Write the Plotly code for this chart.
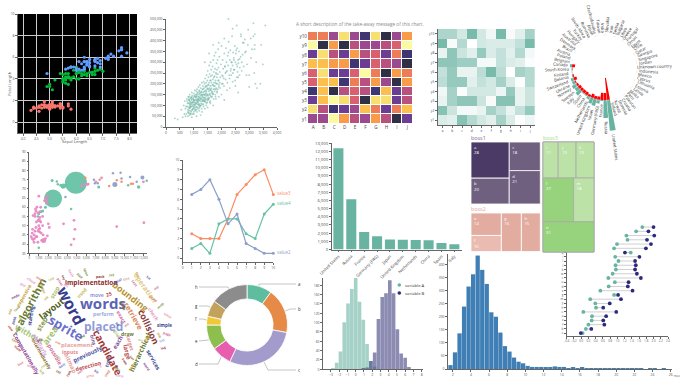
import plotly.graph_objects as go
import math

W, H = 680, 383
fig = go.Figure()
LAY = {}
ANN = []
GREY = "#666"
TEAL = "#69b3a2"

# ---------- data ----------
setosa_sl = [5.1,4.9,4.7,4.6,5.0,5.4,4.6,5.0,4.4,4.9,5.4,4.8,4.8,4.3,5.8,5.7,5.4,5.1,5.7,5.1,5.4,5.1,4.6,5.1,4.8,5.0,5.0,5.2,5.2,4.7,4.8,5.4,5.2,5.5,4.9,5.0,5.5,4.9,4.4,5.1,5.0,4.5,4.4,5.0,5.1,4.8,5.1,4.6,5.3,5.0]
setosa_pl = [1.4,1.4,1.3,1.5,1.4,1.7,1.4,1.5,1.4,1.5,1.5,1.6,1.4,1.1,1.2,1.5,1.3,1.4,1.7,1.5,1.7,1.5,1.0,1.7,1.9,1.6,1.6,1.5,1.4,1.6,1.6,1.5,1.5,1.4,1.5,1.2,1.3,1.4,1.3,1.5,1.3,1.3,1.3,1.6,1.9,1.4,1.6,1.4,1.5,1.4]
versi_sl = [7.0,6.4,6.9,5.5,6.5,5.7,6.3,4.9,6.6,5.2,5.0,5.9,6.0,6.1,5.6,6.7,5.6,5.8,6.2,5.6,5.9,6.1,6.3,6.1,6.4,6.6,6.8,6.7,6.0,5.7,5.5,5.5,5.8,6.0,5.4,6.0,6.7,6.3,5.6,5.5,5.5,6.1,5.8,5.0,5.6,5.7,5.7,6.2,5.1,5.7]
versi_pl = [4.7,4.5,4.9,4.0,4.6,4.5,4.7,3.3,4.6,3.9,3.5,4.2,4.0,4.7,3.6,4.4,4.5,4.1,4.5,3.9,4.8,4.0,4.9,4.7,4.3,4.4,4.8,5.0,4.5,3.5,3.8,3.7,3.9,5.1,4.5,4.5,4.7,4.4,4.1,4.0,4.4,4.6,4.0,3.3,4.2,4.2,4.2,4.3,3.0,4.1]
virgi_sl = [6.3,5.8,7.1,6.3,6.5,7.6,4.9,7.3,6.7,7.2,6.5,6.4,6.8,5.7,5.8,6.4,6.5,7.7,7.7,6.0,6.9,5.6,7.7,6.3,6.7,7.2,6.2,6.1,6.4,7.2,7.4,7.9,6.4,6.3,6.1,7.7,6.3,6.4,6.0,6.9,6.7,6.9,5.8,6.8,6.7,6.7,6.3,6.5,6.2,5.9]
virgi_pl = [6.0,5.1,5.9,5.6,5.8,6.6,4.5,6.3,5.8,6.1,5.1,5.3,5.5,5.0,5.1,5.3,5.5,6.7,6.9,5.0,5.7,4.9,6.7,4.9,5.7,6.0,4.8,4.9,5.6,5.8,6.1,6.4,5.6,5.1,5.6,6.1,5.6,5.5,4.8,5.4,5.6,5.1,5.1,5.9,5.7,5.2,5.0,5.2,5.4,5.1]

dens_x = [720,760,790,800,810,830,840,850,860,870,880,890,900,910,920,930,940,950,960,970,
 980,990,1000,1005,1010,1020,1030,1040,1050,1055,1060,1070,1080,1090,1100,1105,1110,1120,1130,1140,
 1150,1155,1160,1170,1180,1190,1200,1205,1210,1220,1230,1240,1250,1255,1260,1270,1280,1290,1300,1305,
 1310,1320,1330,1340,1350,1355,1360,1370,1380,1390,1400,1405,1410,1420,1430,1440,1450,1455,1460,1470,
 1480,1490,1500,1505,1510,1520,1530,1540,1550,1555,1560,1570,1580,1590,1600,1605,1610,1620,1630,1640,
 1650,1660,1670,1680,1690,1700,1710,1720,1730,1740,1750,1760,1770,1780,1790,1800,1810,1820,1830,1840,
 1850,1860,1870,1880,1890,1900,1920,1940,1960,1980,2000,2020,2040,2060,2080,2100,2120,2140,2160,2180,
 2200,2220,2240,2260,2280,2300,2320,2340,2360,2380,2400,2420,2440,2460,2480,2500,2520,2540,2560,2580,
 2600,2630,2660,2700,2730,2760,2800,2840,2880,2920,2960,3000,3060,3100,3150,3180,3200,3220,3250,3280,
 2250,2400,2550,2700,2800,3150,3580,3200,3430,3190,3490,3400,2900,3000,2600,2100,1900,1700,1550,1400,
 320,420,550,600,640,660,680,700,700,730,750,770,790,810,830,850,880,900,930,960,
 820,860,905,935,965,995,1025,1045,1075,1095,1115,1135,1165,1185,1215,1235,1265,1295,1325,1345,
 1365,1385,1415,1435,1465,1485,1515,1535,1565,1585,1615,1635,1665,1695,1725,1755,1785,1815,1865,1905,
 845,875,925,945,985,1015,1065,1085,1125,1145,1175,1195,1245,1275,1315,1375,1425,1475,1525,1575,
 1000,1100,1200,1300,1400,1500,1600,1700,1800,1900,2000,2100,2200,2300,2400,2500,2600,1250,1350,1450,
 780,815,835,855,885,915,935,975,1005,1035,1065,1095,1125,1155,1185,1215,1245,1275,1305,1335,
 1365,1395,1425,1455,1485,1515,1545,1575,1605,1635,1665,1695,1725,1755,1785,1815,1845,1875,1905,1935,
 790,825,865,895,955,1015,1055,1115,1165,1225,1285,1345,1405,1465,1525,1595,1655,1715,1775,1835,
 2010,2050,2090,2130,2170,2210,2250,2290,2330,2370,2410,2450,2490,2530,2570,2610,2650,2690,2730,2770,
 900,1000,1100,1200,1300,1400,1500,1600,1700,1800,1950,2050,2150,2350,2450,2550,2650,2850,2950,3050]
dens_y = [95,120,80,140,110,75,125,100,150,90,115,135,70,105,125,160,95,145,115,85,
 130,105,155,90,120,140,100,170,125,80,150,110,135,165,95,145,120,175,130,105,
 160,115,140,185,125,150,105,170,135,195,120,160,145,180,100,130,165,205,150,120,
 175,140,190,160,125,210,150,180,135,200,165,145,225,185,130,170,205,155,240,190,
 150,215,175,260,195,135,230,165,205,285,180,245,150,215,190,300,235,170,265,205,
 160,240,195,280,220,310,175,255,205,330,235,190,270,215,345,250,180,295,230,265,
 200,310,245,360,275,215,325,255,230,290,375,240,310,270,225,340,280,250,365,300,
 260,330,285,395,240,310,355,270,300,420,285,345,320,265,375,300,340,290,365,255,
 310,350,275,430,300,335,280,405,350,290,450,240,320,360,420,250,380,200,300,180,
 500,455,470,420,390,480,470,430,380,360,290,200,240,185,230,410,390,380,340,300,
 40,35,80,45,100,60,120,85,50,60,130,95,50,65,140,55,60,75,45,60,
 125,110,135,115,100,125,145,115,90,125,150,115,130,100,155,135,110,145,125,175,
 135,165,115,190,145,180,150,195,135,170,215,180,155,195,230,165,205,245,175,195,
 85,105,130,80,115,85,105,140,90,125,105,165,130,150,105,120,155,125,175,115,
 60,50,75,70,85,90,110,100,130,140,150,125,170,180,210,190,160,55,95,100,
 110,90,130,120,95,140,110,135,125,105,140,110,155,120,140,125,100,160,135,150,
 120,150,135,165,115,145,130,155,175,140,165,150,190,175,140,200,165,215,185,205,
 70,65,90,60,80,95,75,70,85,95,85,105,120,110,125,120,140,130,150,160,
 200,235,190,280,255,205,345,225,260,300,250,310,215,355,280,295,240,325,260,390,
 95,70,80,90,120,125,130,145,155,175,180,200,220,240,265,230,315,345,380,410]

hm1_rows = ["y10","y9","y8","y7","y6","y5","y4","y3","y2","y1"]
hm_cols = list("ABCDEFGHIJ")
hm1 = [[7,7,4,10,4,2,10,1,4,8],[11,1,8,1,5,4,4,5,6,11],[3,10,5,3,8,5,6,3,7,2],[9,9,8,8,2,3,6,5,4,1],
       [6,10,3,3,6,11,7,1,8,7],[6,9,9,2,7,5,8,4,1,8],[2,9,1,5,6,5,2,9,3,5],[3,9,11,10,6,1,10,10,3,5],
       [10,5,2,3,4,9,7,3,7,9],[4,4,11,8,5,4,8,5,1,3]]
hm2 = [[.55,.55,.3,.9,.3,.1,.9,.05,.2,.6],[.9,.05,.5,0,.3,.25,.25,.25,.4,.9],[.15,.75,.35,.2,.7,.25,.4,.2,.5,.08],
       [.75,.75,.65,.65,.07,.07,.4,.25,.2,.02],[.4,.7,.15,.15,.45,.9,.45,0,.6,.5],[.45,.7,.7,.2,.4,.3,.6,.25,.02,.5],
       [.1,.6,.03,.3,.3,.3,.12,.7,.15,.35],[.15,.6,.75,.75,.35,.05,.8,.8,.15,.35],[.8,.35,.08,.08,.15,.6,.4,.15,.4,.7],
       [.25,.2,.8,.5,.3,.2,.6,.25,.02,.12]]

countries = ["Slovakia","Iran","Serbia","Bulgaria","Libya","Greece","Portugal","Oman","Egypt","Chile","Qatar","Georgia",
 "Singapore","Jordan","Unknown country","Indonesia","Mexico","Cyprus","Lithuania","Estonia","Latvia","Malta","Peru","Pakistan",
 "Croatia","Slovenia","Kuwait","Ireland","United States","Russia","France","Germany (FRG)","Israel","United Kingdom","Netherlands",
 "China","Spain","Italy","Sweden","Norway","Ukraine","Switzerland","Belarus","Finland","South Korea","Canada","Belgium","Poland",
 "Austria","Brazil","Denmark","Australia","Hungary","Turkey","South Africa","Romania","Japan","Czechoslovakia","Taiwan","India"]
polar_out = [0]*28 + [31,18,1,4,7,6,3,1,1,6,4,5,3,3,1,.5,.5,2] + [0]*14
polar_in = [0]*28 + [22,7,7,3,3,4,2,3,3,3,3,2,1,3,1,0,.5,3] + [0]*14

bub_africa_x = [1000,1700,1800,1600,1900,1200,700,1100,900,600,400,600,1100,1400,1000,1200,2000,1000,1400,700,1100,1000,2100,3600,4800,1100,300,600,200,500,400,800,900,300,700,500,1300,1500,1700,6100,5500,7000,7600,12000,9200,12050,4700,4700,4400,5800,6200,1900,800,650,750,950,1250,1450,350,550,1950]
bub_africa_y = [66,65,64,63.5,62.5,60,58,57.5,57,56.5,55.5,55,54.5,55,53,52,51,50,50,49,48.5,48,49,51,48,46.5,46,47,44,45,42.5,44,41,43,44,41,42,42,43,72.4,71.5,73.8,76,73.8,49.5,51.6,52.9,42.7,39.6,72.5,72.6,44.5,60,59,52,47,46,45,48,43,66]
bub_africa_s = [2.8]*61
bub_africa_s[37] = 5
bub_africa_s[14] = 4
bub_asia_x = [2500,4900,2400,2900,3000,3300,3600,3500,1200,1000,1400,900,1700,4400,1000,7300,10400,11500,12350,3900,1800,2100]
bub_asia_y = [64.7,73.3,74.5,74,72.5,72,71.5,71,57.5,56.3,58,55,60,59,38,71,72,71,74.4,72,62,62]
bub_asia_s = [18,22,3,2.5,2.5,3,5,3,3,2.5,3,2.5,3,2.5,2.5,3,2.5,3.5,2.5,2.5,2.5,2.5]
bub_eur_x = [6800,6900,7200,8800,9600,9700,10600,9000,11300,11900,3800]
bub_eur_y = [75,73,73,78.4,78.7,75.6,76.4,72.4,73.8,76.2,65.6]
bub_eur_s = [2.5,2.5,2.5,2.5,2.5,2.5,2.5,5,2.5,4,2.5]
bub_amer_x = [5900,7400,8400,9200,9700,10700,10900]
bub_amer_y = [76,75,71.6,74.7,73.8,72.7,72.7]

line_x = [1,2,3,4,5,6,7,8,9,10]
val_orange = [2.5,2,2,2,4,6.5,7.5,8.5,9,6.5]
val_teal = [1,1.5,.5,3.5,4,4,2.5,2,4.5,5.5]
val_blue = [6.5,7,8,6,3.5,4.5,1.5,1,.5,.5]

bar_names = ["United States","Russia","France","Germany (FRG)","Japan","United Kingdom","Netherlands","China","Spain","Italy"]
bar_vals = [12400,6150,2150,1620,1230,1190,1150,1130,800,650]

boss1_ids = ["r1","c1","c2","a","b","c","d"]
boss1_par = ["","r1","r1","c1","c1","c2","c2"]
boss1_val = [87,48,39,28,20,18,21]
boss2_ids = ["r2","c3","e","f","g","h"]
boss2_par = ["","r2","c3","c3","r2","r2"]
boss2_val = [55,24,14,10,16,15]
boss3_ids = ["r3","w1","w2","w3","i","j","k","l","m","n"]
boss3_par = ["","r3","r3","r3","w1","w1","w1","w2","w2","w3"]
boss3_val = [113,37,45,31,11,13,13,27,18,31]

donut_names = list("abcdefgh")
donut_vals = [10,18,29,8,10,3.5,6.5,15]
donut_cols = ["#5fbd9f","#e58b47","#a39bcc","#e75db0","#8dbf4f","#f0c838","#c3a35c","#8c8c8c"]

hA_x = [-2.77,-2.31,-1.85,-1.39,-0.93,-0.47,0,.46,.92,1.38,1.84,2.3]
hA_v = [2,14,38,101,141,172,196,145,106,54,18,6]
hB_x = [.92,1.38,1.84,2.3,2.76,3.22,3.68,4.14,4.6,5.06,5.52,6.0,6.46]
hB_v = [1,4,18,36,108,155,163,191,163,86,34,25,5]

big_hist = [15,64,137,240,317,364,436,381,327,218,201,140,88,67,44,28,22,12,8,8,8,4,6,10,8,8,2,6,2,4,3,3,2,2,3,2,1,1,1,2,1,1,1,0,1,1,0,1,0,0]

dumb_names = list("ptnvroqiljkwcudxgmyheazfbs")
dumb_a = [1.69,1.52,1.25,1.28,.99,.91,1.37,.94,1.03,.95,.96,.87,.75,.93,.76,.53,.91,.25,.39,.41,.06,.30,.29,.20,.13,.04]
dumb_b = [2.0,1.86,2.02,1.82,1.93,1.79,1.21,1.61,1.49,1.51,1.49,1.54,1.65,1.31,1.29,1.42,1.02,1.10,.79,.61,.97,.69,.61,.64,.28,-.01]

leaders_x = [[257,259,296],[279,290,296],[262,268,296],[222,218,199],[217,208,199],[213,203,199],[218,208,199],[233,228,199]]
leaders_y = [[297,284,284],[314,309,309],[358,370,370],[355,364,364],[338,340,341],[322,319,319],[311,306,306],[298,287,287]]
leader_names = list("abcdefgh")

cloud = [("word",215,122,16,62,"#363b8c"),("words",308,115,15,0,"#5b64b5"),("sprite",198,190,13,30,"#6a70cf"),
 ("placed",310,183,12,0,"#8f9bd8"),("algorithm",92,110,10.5,-62,"#687a32"),("layout",155,130,9,-38,"#4e5d1e"),
 ("bounding",392,95,9,38,"#b8922e"),("implementation",273,52,6.5,0,"#8b2b2b"),("operation",435,68,7,55,"#e3c98a"),
 ("retrieve",402,152,7.5,60,"#d88a5f"),("collision",447,183,9,65,"#8a3a3a"),("candidate",325,263,10,62,"#a33535"),
 ("area",150,212,9,-55,"#a7c36f"),("without",90,205,8,30,"#a6c578"),("step",127,175,7,-58,"#8a9a4f"),
 ("starting",92,153,5,-80,"#3a3f8f"),("perform",310,147,5,0,"#9ca8e0"),("move",290,90,5,0,"#8f9bd8"),
 ("placement",230,240,6,0,"#e8a09a"),("inputs",210,260,5,0,"#dd8888"),("previously",265,268,6,-25,"#4a4f9a"),
 ("detection",265,302,5.5,-15,"#b94a4a"),("hierarchical",420,262,7,-65,"#6d7a30"),("services",460,285,5.5,60,"#3a3f8f"),
 ("simple",493,180,4.5,0,"#3a3f8f"),("draw",382,208,5,0,"#6d7a30"),("check",460,148,5,55,"#e89ac0"),
 ("exact",365,155,5,60,"#d06a9f"),("expensive",70,92,5,-60,"#c9a33a"),("Computationally",78,268,5.6,60,"#8a3a8a"),
 ("intermediately",125,268,4.6,60,"#8a6a2a"),("possible",165,270,5.6,60,"#d070a0"),("similarly",120,240,5.6,60,"#e0a0d8"),
 ("bitmap",210,295,6,65,"#e8a0a0"),("tree",322,290,5,-75,"#4a4f9a"),("large",380,262,6,75,"#b94a4a"),
 ("target",390,235,5,75,"#dd8888"),("bins",280,225,5,75,"#7a4a9a"),("used",245,85,5,-45,"#c9c36a"),
 ("stop",165,85,6,-60,"#a7c36f"),("25",327,88,5,-20,"#b94a4a"),("each",355,232,6,-60,"#7a4a9a"),
 ("time",370,125,4,70,"#8a6a2a"),("grid",350,205,4,60,"#a7c36f"),("text",405,55,3.5,50,"#d070a0"),
 ("font",440,220,3.5,-70,"#c9a33a"),("size",240,30,3.5,40,"#687a32"),("pixel",180,50,3.5,60,"#d070a0"),
 ("pack",300,35,3.5,0,"#8a3a3a"),("spiral",350,48,3.5,-30,"#5b64b5"),("shape",130,70,3.5,70,"#c9a33a"),
 ("fill",200,60,3.5,30,"#e0a0d8"),("loop",120,40,3.5,25,"#dd8888"),("cloud",95,45,3.5,35,"#e89ac0"),
 ("node",45,95,3.5,-25,"#8a3a8a"),("rect",50,130,3.5,-40,"#8a9a4f"),("path",40,165,3.5,-70,"#3a3f8f"),
 ("edge",50,195,3.5,-60,"#6d7a30"),("fast",45,225,3.5,20,"#b8922e"),("slow",55,250,3.5,40,"#b94a4a"),
 ("box",60,295,3.5,-30,"#dd8888"),("mask",95,305,3.5,20,"#e0a0d8"),("row",130,300,3.5,-40,"#a7c36f"),
 ("col",175,320,3.5,30,"#8a6a2a"),("run",205,325,3.5,-60,"#8a3a3a"),("cell",240,320,3.5,-35,"#d070a0"),
 ("bit",290,320,3.5,40,"#5b64b5"),("data",350,310,3.5,30,"#8a9a4f"),("test",395,305,3.5,-60,"#c9a33a"),
 ("word",440,305,3.5,55,"#8a3a8a"),("list",485,225,3.5,-30,"#9ca8e0"),("view",505,150,3.5,30,"#e8a09a"),
 ("map",480,120,3.5,-45,"#8a9a4f"),("draw",460,100,3.5,35,"#d88a5f"),("tile",480,210,3.5,60,"#c9a33a"),
 ("page",500,205,3.5,20,"#d070a0"),("fits",415,30,3.5,60,"#c9a33a"),("line",380,40,3.5,-20,"#e8a09a"),
 ("span",260,22,3.5,70,"#8a9a4f"),("hash",215,25,3.5,60,"#e89ac0"),("top",155,40,3.5,-30,"#c9c36a"),
 ("left",125,320,3.5,50,"#a7c36f"),("sort",185,300,3.5,-30,"#5b64b5"),("core",360,330,3.5,10,"#e0a0d8"),
 ("step",320,325,3.5,-60,"#d88a5f"),("area",270,330,3.5,-10,"#e8a09a"),("sum",375,290,3.5,60,"#8a3a3a"),
 ("ink",140,100,3.2,-50,"#c9a33a"),("key",190,40,3.2,70,"#8a3a3a"),("gap",70,60,3.2,30,"#e0a0d8"),
 ("tag",335,30,3.2,-10,"#8a9a4f"),("hit",445,40,3.2,40,"#5b64b5"),("old",470,70,3.2,-30,"#d070a0"),
 ("new",30,190,3.2,50,"#b94a4a"),("add",30,140,3.2,-60,"#c9a33a"),("set",60,160,3.2,70,"#a7c36f"),
 ("get",120,225,3.2,-20,"#8a3a8a"),("use",175,235,3.2,30,"#d88a5f"),("end",245,215,3.2,-30,"#687a32"),
 ("fit",350,178,3.2,50,"#3a3f8f"),("dot",380,180,3.2,-40,"#dd8888"),("arc",420,225,3.2,20,"#a7c36f"),
 ("bar",395,280,3.2,40,"#8a6a2a"),("pen",300,300,3.2,60,"#e89ac0"),("pad",235,285,3.2,-50,"#9ca8e0"),
 ("hue",175,275,3.2,35,"#c9c36a"),("log",490,250,3.2,-20,"#8a3a3a")]

# ---------- helpers ----------
def axes(i, l, r, t, b, xkw=None, ykw=None, show=True):
    base = dict(showgrid=False, zeroline=False, showline=show, linecolor=GREY, linewidth=.6,
                ticks="outside" if show else "", ticklen=2, tickwidth=.5, tickcolor=GREY,
                tickfont=dict(size=3.4, color="#555"), showticklabels=show, visible=show, tickangle=0)
    s = "" if i == 1 else str(i)
    LAY["xaxis" + s] = {**base, "domain": [l / W, r / W], "anchor": "y" + s, **(xkw or {})}
    LAY["yaxis" + s] = {**base, "domain": [1 - b / H, 1 - t / H], "anchor": "x" + s, **(ykw or {})}
    return ("x" + s, "y" + s)

def txt(x, y, t, size=5, color="#555", angle=0, xa="center", xr="x16", yr="y16", bold=False):
    ANN.append(dict(x=x, y=y, xref=xr, yref=yr, text="<b>%s</b>" % t if bold else t, showarrow=False,
                    font=dict(size=size, color=color), textangle=angle, xanchor=xa, yanchor="middle", borderpad=0, borderwidth=0))

axes(16, 0, W, 0, H, dict(range=[0, W], visible=False), dict(range=[H, 0], visible=False), show=False)
axes(17, 0, 290, 265, 383, dict(range=[0, 870], visible=False), dict(range=[354, 0], visible=False), show=False)

# 1 iris
xa, ya = axes(1, 18, 137, 14, 133,
    dict(range=[3.81, 8.28], dtick=.5, tick0=4, showgrid=True, gridcolor="#ccc", gridwidth=.5, tickformat=".1f"),
    dict(range=[-1, 10], dtick=2, showgrid=True, gridcolor="#ccc", gridwidth=.5))
for sx, sy, c in [(setosa_sl, setosa_pl, "#F8766D"), (versi_sl, versi_pl, "#00BA38"), (virgi_sl, virgi_pl, "#619CFF")]:
    fig.add_trace(go.Scatter(x=sx, y=sy, mode="markers", marker=dict(size=3.2, color=c), xaxis=xa, yaxis=ya))
LAY["shapes"] = [dict(type="rect", xref="x domain", yref="y domain", x0=0, x1=1, y0=0, y1=1, fillcolor="black", line_width=0, layer="below")]
txt(75, 141, "Sepal Length", 4.2)
txt(9, 84, "Petal Length", 4.2, angle=-90)

# 2 density scatter
xa, ya = axes(2, 166, 277, 19, 127, dict(range=[0, 4000], dtick=500, tickformat=","),
              dict(range=[0, 500], tickvals=list(range(0, 501, 50)), ticktext=[f"{v*1000:,}" for v in range(0, 501, 50)]))
fig.add_trace(go.Scatter(x=dens_x, y=dens_y, mode="markers", marker=dict(size=1.9, color=TEAL, opacity=.55), xaxis=xa, yaxis=ya, cliponaxis=False))

# 3 heatmap
mag = ["#2f2f45", "#3f3572", "#6b3e94", "#9b4a90", "#b9517f", "#d8606f", "#ec7d57", "#f99c4a", "#fcbf4d", "#f7df70", "#fafaa0"]
xa, ya = axes(3, 308, 412.5, 32, 123.5, dict(showline=False, ticks="", tickfont=dict(size=4.6, color="#444")),
              dict(showline=False, ticks="", autorange="reversed", tickfont=dict(size=4.6, color="#444")))
fig.add_trace(go.Heatmap(z=hm1, x=hm_cols, y=hm1_rows, zmin=1, zmax=11, showscale=False, xgap=1, ygap=1,
                         colorscale=[[i / 10, c] for i, c in enumerate(mag)], xaxis=xa, yaxis=ya))
txt(360, 24, "A short description of the take-away message of this chart.", 4.7, "#8a8a8a")

# 4 heatmap green
xa, ya = axes(4, 437.7, 535, 29, 125, dict(tickfont=dict(size=3.2)), dict(autorange="reversed", tickfont=dict(size=3.2)))
fig.add_trace(go.Heatmap(z=hm2, x=[c.lower() for c in hm_cols], y=hm1_rows, zmin=0, zmax=1, showscale=False,
                         colorscale=[[0, "#ffffff"], [1, TEAL]], xaxis=xa, yaxis=ya))

# 5 circular bars
ang = [4 + 6 * i for i in range(len(countries))]
R0, CX, CY = 32, 604, 68
fig.add_trace(go.Scatterpolar(r=[R0 + 1] * 121, theta=[i * 3 for i in range(121)], mode="lines",
                              line=dict(color="#ddd", width=.5, dash="3px,6px"), subplot="polar"))
fig.add_trace(go.Barpolar(r=polar_out, theta=ang, base=R0, width=5.4, marker=dict(color=TEAL, line_width=0), subplot="polar"))
fig.add_trace(go.Barpolar(r=polar_in, theta=ang, base=[R0 - v for v in polar_in], width=5.4, marker=dict(color="#ff0000", line_width=0), subplot="polar"))
LAY["polar"] = dict(domain=dict(x=[(CX - 64) / W, (CX + 64) / W], y=[1 - (CY + 64) / H, 1 - (CY - 64) / H]), bgcolor="rgba(0,0,0,0)",
                    angularaxis=dict(visible=False, rotation=90, direction="clockwise"),
                    radialaxis=dict(visible=False, range=[0, 64]))
for name, th, v in zip(countries, ang, polar_out):
    size = 4.2
    rc = R0 + 3 + v + len(name) * size * .26
    px = CX + rc * math.sin(math.radians(th))
    py = CY - rc * math.cos(math.radians(th))
    txt(px, py, name, size, "#333", angle=(th - 90 if th < 180 else th + 90))

# 6 bubbles
xa, ya = axes(6, 29.3, 147, 152, 253.3, dict(range=[0, 12380], dtick=1000, tickformat=",", tickfont=dict(size=2.8, color="#555")), dict(range=[35, 90], dtick=5))
for bx, by, bs, c in [(bub_asia_x, bub_asia_y, bub_asia_s, "#66c2a5"), (bub_amer_x, bub_amer_y, [2.5] * 7, "#fc8d62"),
                      (bub_eur_x, bub_eur_y, bub_eur_s, "#8da0cb"), (bub_africa_x, bub_africa_y, bub_africa_s, "#e78ac3")]:
    fig.add_trace(go.Scatter(x=bx, y=by, mode="markers", marker=dict(size=bs, color=c, opacity=.95, line_width=0), xaxis=xa, yaxis=ya, cliponaxis=False))

# 7 lines
xa, ya = axes(7, 182.7, 273.3, 160, 261.7, dict(range=[0, 10], dtick=1), dict(range=[-.35, 10], tickvals=list(range(11))))
for v, c in [(val_orange, "#fc8d62"), (val_teal, "#66c2a5"), (val_blue, "#8da0cb")]:
    fig.add_trace(go.Scatter(x=line_x, y=v, mode="lines+markers", line=dict(color=c, width=1.2), marker=dict(size=3, color=c), xaxis=xa, yaxis=ya, cliponaxis=False))
txt(276.5, 192.7, "value3", 4.4, "#fc8d62", xa="left")
txt(276.5, 203, "value4", 4.4, "#66c2a5", xa="left")
txt(276.5, 252, "value2", 4.4, "#8da0cb", xa="left")

# 8 bars
xa, ya = axes(8, 331.7, 461.7, 143.3, 249.5, dict(range=[-.52, 9.57], tickangle=-45, tickfont=dict(size=4.2, color="#444")),
              dict(range=[0, 13000], dtick=1000, tickformat=",", tickfont=dict(size=4.2, color="#444")))
fig.add_trace(go.Bar(x=bar_names, y=bar_vals, width=.78, marker=dict(color=TEAL, line_width=0), xaxis=xa, yaxis=ya))

# 9 treemaps
def tm(ids, par, val, leafcol, l, r, t, b, packing, line="#ffffff"):
    cols = [leafcol.get(i, "#ffffff") for i in ids]
    text = [f"{i}<br>{v}" if i in leafcol else "" for i, v in zip(ids, val)]
    fig.add_trace(go.Treemap(ids=ids, labels=ids, parents=par, values=val, branchvalues="total", text=text, textinfo="text",
                             textposition="top left", textfont=dict(size=4.2, color="white"), sort=False,
                             tiling=dict(packing=packing, pad=0), pathbar=dict(visible=False),
                             marker=dict(colors=cols, line=dict(color=line, width=.8), pad=dict(t=0, l=0, r=0, b=0)),
                             domain=dict(x=[l / W, r / W], y=[1 - b / H, 1 - t / H]), hoverinfo="skip"))
tm(boss1_ids, boss1_par, boss1_val, dict(a="#4b3a66", b="#6f6080", c="#6f6080", d="#6f6080"), 471, 540.3, 142, 204, "slice-dice")
tm(boss2_ids, boss2_par, boss2_val, dict(e="#e2ada0", f="#eabcb1", g="#e2ada0", h="#e2ada0"), 471, 540.3, 213, 251.5, "slice-dice")
tm(boss3_ids, boss3_par, boss3_val, dict(i="#bde2a8", j="#bde2a8", k="#bde2a8", l="#97d37c", m="#bde2a8", n="#97d37c"), 543, 594, 142, 252, "dice-slice", line="#aaaaaa")
txt(471, 138, "boss1", 5.4, "#7f6a9c", xa="left")
txt(471, 209, "boss2", 5.4, "#e2a89a", xa="left")
txt(543, 138, "boss3", 5.4, "#a3dc8a", xa="left")

# 10 word cloud
for w, x, y, s, a, c in cloud:
    txt(x, y, w, s, c, angle=a, xr="x17", yr="y17", bold=True)

# 11 donut
fig.add_trace(go.Pie(values=donut_vals, labels=donut_names, hole=.645, sort=False, direction="clockwise", rotation=0,
                     marker=dict(colors=donut_cols, line=dict(color="white", width=.8)), textinfo="none",
                     domain=dict(x=[206.5 / W, 287.5 / W], y=[1 - 365.5 / H, 1 - 284.5 / H])))
for lx, ly, n in zip(leaders_x, leaders_y, leader_names):
    fig.add_trace(go.Scatter(x=lx, y=ly, mode="lines", line=dict(color="#888", width=.5), xaxis="x16", yaxis="y16"))
    txt(lx[2] + (3 if lx[2] > 250 else -3), ly[2], n, 4.4, "#333")

# 12 two histograms
xa, ya = axes(12, 323, 423, 278, 369.3, dict(range=[-3.97, 8.17], dtick=1, tick0=-4), dict(range=[0, 195.7], dtick=20))
fig.add_trace(go.Bar(x=hA_x, y=hA_v, width=.44, marker=dict(color=TEAL, opacity=.6, line_width=0), xaxis=xa, yaxis=ya))
fig.add_trace(go.Bar(x=hB_x, y=hB_v, width=.44, marker=dict(color="#404080", opacity=.6, line_width=0), xaxis=xa, yaxis=ya))
fig.add_trace(go.Scatter(x=[399.3], y=[285], mode="markers", marker=dict(size=3.6, color=TEAL), xaxis="x16", yaxis="y16"))
fig.add_trace(go.Scatter(x=[399.3], y=[293], mode="markers", marker=dict(size=3.6, color="#2d2a7c"), xaxis="x16", yaxis="y16"))
txt(404.5, 285, "variable A", 4.2, "#333", xa="left")
txt(404.5, 293, "variable B", 4.2, "#333", xa="left")

# 13 big histogram
xa, ya = axes(13, 448, 672, 254, 369, dict(range=[1.48, 26.15], dtick=2, tick0=2), dict(range=[0, 442], dtick=50))
fig.add_trace(go.Bar(x=[1.75 + .5 * i for i in range(len(big_hist))], y=big_hist, width=.47,
                     marker=dict(color="#3f7fb5", line_width=0), xaxis=xa, yaxis=ya))
txt(674, 376, "max. m", 2.8, "#666", xa="left")

# 14 dumbbell
xa, ya = axes(14, 566.7, 668, 222, 336.3, dict(range=[-.4, 2.4], dtick=.2, tick0=-.4, tickformat=".1f", tickfont=dict(size=2.8, color="#555")),
              dict(range=[-.75, 26.2], tickvals=list(range(26)), ticktext=dumb_names[::-1], tickfont=dict(size=3, color="#555")))
rows = list(range(25, -1, -1))
segx, segy = [], []
for a, b, r in zip(dumb_a, dumb_b, rows):
    segx += [a, b, None]
    segy += [r, r, None]
fig.add_trace(go.Scatter(x=segx, y=segy, mode="lines", line=dict(color="#bbb", width=.7), xaxis=xa, yaxis=ya))
fig.add_trace(go.Scatter(x=dumb_a, y=rows, mode="markers", marker=dict(size=3.8, color=TEAL), xaxis=xa, yaxis=ya))
fig.add_trace(go.Scatter(x=dumb_b, y=rows, mode="markers", marker=dict(size=3.8, color="#2d2a7c"), xaxis=xa, yaxis=ya))

fig.update_layout(width=W, height=H, margin=dict(l=0, r=0, t=0, b=0, autoexpand=False), showlegend=False, barmode="overlay",
                  paper_bgcolor="white", plot_bgcolor="rgba(0,0,0,0)", font=dict(family="Open Sans, Liberation Sans, sans-serif"),
                  annotations=ANN, **LAY)
fig.write_html("out.html", config={"displayModeBar": False},
               post_script="document.body.style.margin='0';document.body.style.overflow='hidden';")
